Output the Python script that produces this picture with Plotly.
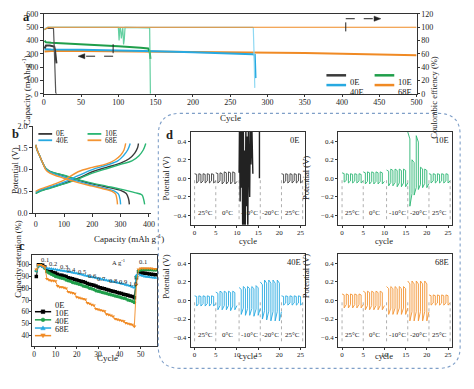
import plotly.graph_objects as go

W, H = 474, 389
FONT = "Liberation Serif"
AX = "#333333"

def X(p):
    return p / W

def Y(p):
    return 1 - p / H

# ---------------- Panel a data ----------------
a_cyc_0E = [1, 3, 8, 13, 14, 15, 16, 17]
a_cap_0E = [340, 362, 362, 360, 355, 330, 290, 228]
a_ce_cyc_0E = [1, 3, 8, 12, 13, 14, 15, 16, 17]
a_ce_0E = [96, 98, 98, 98, 98, 70, 30, 2, 0]

a_cyc_10E = [1, 3, 10, 50, 100, 130, 140, 142, 143]
a_cap_10E = [398, 386, 382, 372, 357, 346, 340, 320, 262]
a_ce_cyc_10E = [1, 5, 100, 101, 102, 103, 104, 105, 106, 107, 108, 109, 140, 142, 143]
a_ce_10E = [96, 99.5, 99.5, 80, 99, 98, 83, 99, 99, 74, 82, 99.5, 99.5, 99, 0]

a_cyc_40E = [1, 10, 50, 100, 150, 200, 250, 280, 283, 284]
a_cap_40E = [335, 333, 330, 327, 320, 312, 305, 296, 292, 118]
a_ce_cyc_40E = [1, 5, 280, 281, 282, 283]
a_ce_40E = [97, 99.6, 99.8, 99, 60, 9]

a_cyc_68E = [1, 10, 50, 100, 150, 200, 250, 300, 350, 400, 450, 500]
a_cap_68E = [318, 322, 322, 320, 318, 315, 313, 310, 306, 301, 296, 290]
a_ce_cyc_68E = [1, 3, 6, 10, 100, 200, 300, 400, 500]
a_ce_68E = [96.5, 98, 99.5, 99.8, 99.8, 99.8, 99.8, 99.8, 99.8]

# ---------------- Panel b data ----------------
b_dis_cap_0E = [0, 5, 15, 25, 35, 50, 100, 150, 200, 250, 300, 320, 328, 331]
b_dis_v_0E = [1.57, 1.45, 1.3, 1.15, 1.03, 0.96, 0.86, 0.76, 0.67, 0.6, 0.52, 0.45, 0.33, 0.2]
b_chg_cap_0E = [0, 20, 50, 100, 150, 200, 250, 300, 330, 350, 360, 363]
b_chg_v_0E = [0.45, 0.52, 0.58, 0.68, 0.8, 0.95, 1.05, 1.15, 1.25, 1.38, 1.5, 1.6]

b_dis_cap_10E = [0, 5, 15, 25, 35, 50, 100, 150, 200, 250, 300, 350, 375, 382, 385]
b_dis_v_10E = [1.57, 1.45, 1.3, 1.15, 1.03, 0.96, 0.87, 0.77, 0.69, 0.62, 0.55, 0.47, 0.42, 0.3, 0.2]
b_chg_cap_10E = [0, 20, 50, 100, 150, 200, 250, 300, 340, 365, 380, 389]
b_chg_v_10E = [0.45, 0.51, 0.57, 0.67, 0.78, 0.92, 1.02, 1.12, 1.2, 1.32, 1.45, 1.6]

b_dis_cap_40E = [0, 5, 15, 25, 35, 50, 100, 150, 200, 250, 280, 292, 298, 300]
b_dis_v_40E = [1.57, 1.45, 1.3, 1.15, 1.02, 0.94, 0.83, 0.73, 0.64, 0.56, 0.5, 0.44, 0.32, 0.2]
b_chg_cap_40E = [0, 20, 50, 100, 150, 200, 250, 290, 310, 325, 334]
b_chg_v_40E = [0.48, 0.54, 0.6, 0.71, 0.86, 1.0, 1.1, 1.2, 1.32, 1.45, 1.6]

b_dis_cap_68E = [0, 5, 15, 25, 35, 50, 100, 150, 200, 250, 270, 282, 287, 289]
b_dis_v_68E = [1.57, 1.45, 1.3, 1.15, 1.0, 0.92, 0.8, 0.7, 0.62, 0.54, 0.5, 0.44, 0.32, 0.2]
b_chg_cap_68E = [0, 20, 50, 100, 150, 200, 250, 280, 300, 312, 318]
b_chg_v_68E = [0.5, 0.56, 0.63, 0.76, 0.95, 1.05, 1.13, 1.22, 1.33, 1.45, 1.6]

# ---------------- Panel c data ----------------
c_cycle = list(range(1, 58))
c_0E = [90, 100, 100, 99.5, 98, 95, 94, 94, 93.5, 93, 92, 91, 91, 90.5, 90, 89, 88.5, 88, 87.5, 87,
        86.5, 86, 85.5, 85, 84, 83.5, 83, 82.5, 82, 81, 80.5, 80, 79.5, 79, 78.5, 78, 77.5, 77, 76.5, 76,
        75.5, 75, 74.5, 74, 73.5, 73, 72, 89, 94, 93.5, 93, 92.8, 92.5, 92.2, 92, 91.8, 91.5]
c_10E = [95, 99, 99.5, 98.5, 97, 94, 93, 92, 91, 90, 89.5, 89, 88.5, 88, 87, 86.5, 86, 85, 84.5, 84,
         83.5, 83, 82, 81.5, 81, 80, 79.5, 79, 78, 77.5, 77, 76.5, 76, 75.5, 75, 74.5, 74, 73.5, 73, 72.5,
         72, 71.5, 71, 70, 69.5, 69, 68, 90, 95, 95.5, 96, 96, 96, 95.8, 95.8, 95.5, 95.5]
c_40E = [95, 99, 99, 98, 97.5, 97, 96.8, 96.5, 96.2, 96, 95.6, 95.3, 95, 94.7, 94.4, 94, 93.7, 93.4, 93, 92.7,
         92.2, 91.8, 91.3, 90.8, 90.4, 90, 89.6, 89.2, 88.8, 88.4, 88, 87.6, 87.2, 86.8, 86.4, 86, 85.6, 85.2, 84.8, 84.4,
         84, 83.5, 83, 82.5, 82, 81.2, 80.5, 91, 92, 91, 90.5, 90, 89.8, 89.5, 89.2, 89, 88.8]
c_68E = [96, 100, 100, 99, 98, 88, 87, 86.5, 86.5, 86, 82, 81, 81, 80.5, 80, 77, 76.5, 76, 75.5, 72.5,
         72, 71.5, 71, 70.5, 67.5, 67, 66, 65.5, 62.5, 62, 61.5, 61, 60.5, 58, 57.5, 57, 56, 54, 53.5, 53,
         52.5, 52, 50.5, 50, 49.5, 49, 47.5, 83, 96, 97, 97, 97, 97, 97, 97, 96.5, 96.5]
c_rate_lbl = ["0.1", "0.2", "0.3", "0.4", "0.5", "0.6", "0.7", "0.8", "0.9", "1.0", "0.1"]
c_rate_x = [4.9, 8.8, 13.8, 17.7, 22.3, 27.2, 31.8, 36.9, 41.8, 46.5, 51.0]
c_rate_y = [104.5, 101, 98.5, 96, 94, 91, 88.5, 87, 86, 84, 103]

# ---------------- Panel d data ----------------
d_seg_start = [0, 5, 10.5, 15.5, 20.5]
d_bounds = [0, 5, 10.5, 15.5, 20.5, 25.5]
d_temps = ["25°C", "0°C", "-10°C", "-20°C", "25°C"]
d_temp_x = [2.5, 7.7, 13.0, 18.0, 23.1]

d0_hi = [[0.05, 0.05, 0.05, 0.05, 0.05], [0.06, 0.06, 0.07, 0.07, 0.07], None, None, [0.05, 0.05, 0.05, 0.05, 0.05]]
d0_lo = [[-0.05, -0.05, -0.05, -0.05, -0.05], [-0.05, -0.06, -0.06, -0.06, -0.06], None, None, [-0.05, -0.05, -0.05, -0.05, -0.05]]
d0_fail_t = [10.5, 10.6, 10.75, 10.9, 11.05, 11.2, 11.35, 11.5, 11.65, 11.8, 11.95, 12.1, 12.25, 12.4,
             12.55, 12.7, 12.85, 13.0, 13.15, 13.3, 13.5, 13.7, 13.75, None, 15.3, 15.3]
d0_fail_v = [0.06, 0.6, -0.25, 0.6, -0.1, 0.5, -0.6, 0.6, -0.6, 0.3, -0.6, 0.6, -0.3, 0.45,
             -0.6, 0.6, 0.1, -0.2, 0.6, 0.15, 0.6, 0.15, 0.05, None, 0.0, 0.6]

d10_hi = [[0.06, 0.05, 0.05, 0.05, 0.05], [0.07, 0.07, 0.07, 0.07, 0.07], [0.09, 0.1, 0.1, 0.1, 0.1],
          [0.5, 0.2, 0.46, 0.12, 0.1], [0.05, 0.05, 0.05, 0.05, 0.05]]
d10_lo = [[-0.04, -0.05, -0.05, -0.05, -0.05], [-0.06, -0.06, -0.06, -0.06, -0.06], [-0.08, -0.08, -0.09, -0.09, -0.09],
          [-0.3, -0.18, -0.12, -0.1, -0.1], [-0.05, -0.05, -0.05, -0.05, -0.05]]

d40_hi = [[0.05, 0.05, 0.05, 0.05, 0.05], [0.09, 0.1, 0.1, 0.1, 0.1], [0.14, 0.15, 0.15, 0.15, 0.16],
          [0.2, 0.22, 0.22, 0.22, 0.22], [0.05, 0.05, 0.05, 0.05, 0.05]]
d40_lo = [[-0.06, -0.06, -0.06, -0.06, -0.06], [-0.1, -0.1, -0.1, -0.11, -0.1], [-0.15, -0.16, -0.16, -0.17, -0.16],
          [-0.2, -0.21, -0.22, -0.22, -0.22], [-0.05, -0.05, -0.05, -0.05, -0.05]]

d68_hi = [[0.07, 0.07, 0.07, 0.07, 0.07], [0.1, 0.1, 0.1, 0.1, 0.1], [0.15, 0.15, 0.15, 0.15, 0.15],
          [0.21, 0.21, 0.21, 0.21, 0.21], [0.06, 0.06, 0.06, 0.06, 0.06]]
d68_lo = [[-0.08, -0.08, -0.08, -0.08, -0.08], [-0.1, -0.1, -0.1, -0.1, -0.1], [-0.15, -0.15, -0.15, -0.15, -0.15],
          [-0.22, -0.22, -0.22, -0.22, -0.22], [-0.05, -0.05, -0.05, -0.05, -0.05]]

# ---------------- colours ----------------
C0 = "#3a3a3a"
C10 = "#1f9e4a"
C40 = "#27a9e1"
C68 = "#f08a24"
C10_ce = "#63cfa0"
C40_ce = "#8ed8f2"
C10b = "#2bb673"
C68b = "#f39433"

fig = go.Figure()

# ---------- panel a ----------
for cyc, ce, col in [(a_ce_cyc_0E, a_ce_0E, "#555555"), (a_ce_cyc_10E, a_ce_10E, C10_ce),
                     (a_ce_cyc_40E, a_ce_40E, C40_ce), (a_ce_cyc_68E, a_ce_68E, C68)]:
    fig.add_trace(go.Scatter(x=cyc, y=ce, mode="lines", line=dict(color=col, width=1.2),
                             xaxis="x", yaxis="y2", showlegend=False))
for cyc, cap, col in [(a_cyc_68E, a_cap_68E, C68), (a_cyc_40E, a_cap_40E, C40),
                      (a_cyc_10E, a_cap_10E, C10), (a_cyc_0E, a_cap_0E, C0)]:
    fig.add_trace(go.Scatter(x=cyc, y=cap, mode="lines", line=dict(color=col, width=2),
                             xaxis="x", yaxis="y", showlegend=False))

# ---------- panel b ----------
for cap, v, col in [(b_dis_cap_0E, b_dis_v_0E, C0), (b_chg_cap_0E, b_chg_v_0E, C0),
                    (b_dis_cap_10E, b_dis_v_10E, C10b), (b_chg_cap_10E, b_chg_v_10E, C10b),
                    (b_dis_cap_40E, b_dis_v_40E, C40), (b_chg_cap_40E, b_chg_v_40E, C40),
                    (b_dis_cap_68E, b_dis_v_68E, C68b), (b_chg_cap_68E, b_chg_v_68E, C68b)]:
    fig.add_trace(go.Scatter(x=cap, y=v, mode="lines", line=dict(color=col, width=1.4, shape="spline"),
                             xaxis="x2", yaxis="y3", showlegend=False))

# ---------- panel c ----------
c_series = [(c_0E, "#000000", "square"), (c_10E, C10, "circle"),
            (c_40E, C40, "triangle-up"), (c_68E, C68, "triangle-down")]
for vals, col, sym in c_series:
    fig.add_trace(go.Scatter(x=c_cycle, y=vals, mode="lines+markers",
                             line=dict(color=col, width=0.9), marker=dict(symbol=sym, size=3.5, color=col),
                             xaxis="x3", yaxis="y4", showlegend=False))

# ---------- panel d ----------
RELAX_HI = 0.85
RELAX_LO = 0.55

def wave(hi, lo):
    xs, ys = [], []
    for s0, hs, ls in zip(d_seg_start, hi, lo):
        if hs is None:
            continue
        for k, (h, l) in enumerate(zip(hs, ls)):
            t0 = s0 + k
            xs += [t0, t0 + 0.5, t0 + 0.5, t0 + 1.0]
            ys += [h, h * RELAX_HI, l, l * RELAX_LO]
        xs.append(None)
        ys.append(None)
    return xs, ys

d_panels = [("x4", "y5", d0_hi, d0_lo, "#3a3a3a", "0E"),
            ("x5", "y6", d10_hi, d10_lo, C10b, "10E"),
            ("x6", "y7", d40_hi, d40_lo, C40, "40E"),
            ("x7", "y8", d68_hi, d68_lo, C68b, "68E")]

shapes = []
annotations = []

for xa, ya, hi, lo, col, name in d_panels:
    for b in d_bounds:
        shapes.append(dict(type="line", xref=xa, yref=ya, x0=b, x1=b, y0=-0.44, y1=0.0,
                           line=dict(color="#9a9a9a", width=0.8, dash="dot"), layer="below"))
    xs, ys = wave(hi, lo)
    fig.add_trace(go.Scatter(x=xs, y=ys, mode="lines", line=dict(color=col, width=0.9),
                             xaxis=xa, yaxis=ya, showlegend=False, cliponaxis=True))
    if name == "0E":
        fig.add_trace(go.Scatter(x=d0_fail_t, y=d0_fail_v, mode="lines", line=dict(color="#222222", width=1.4),
                                 xaxis=xa, yaxis=ya, showlegend=False, connectgaps=False))
    for tx, tl in zip(d_temp_x, d_temps):
        annotations.append(dict(x=tx, y=-0.37, xref=xa, yref=ya, text=tl, showarrow=False,
                                font=dict(family=FONT, size=7, color="#222")))
    annotations.append(dict(x=23.5, y=0.41, xref=xa, yref=ya, text=name, showarrow=False,
                            font=dict(family=FONT, size=8.5, color="#222")))

# ---------- axes ----------
def axs(**kw):
    base = dict(showline=True, linecolor=AX, linewidth=1, mirror=True, ticks="outside", ticklen=3,
                tickwidth=1, tickcolor=AX, showgrid=False, zeroline=False,
                tickfont=dict(family=FONT, size=8, color="#222"))
    base.update(kw)
    return base

layout = dict(
    width=W, height=H, margin=dict(l=0, r=0, t=0, b=0), paper_bgcolor="white", plot_bgcolor="white",
    font=dict(family=FONT, color="#222"),
    xaxis=axs(domain=[X(42.5), X(421.7)], anchor="y", range=[0, 500], dtick=50, ticklen=2, ticklabelstandoff=-1),
    yaxis=axs(domain=[Y(92), Y(10)], anchor="x", range=[0, 600], dtick=100, mirror=False),
    yaxis2=axs(domain=[Y(92), Y(10)], anchor="x", overlaying="y", side="right", range=[0, 120], dtick=20,
               mirror=False, ticklen=2),
    xaxis2=axs(domain=[X(31.7), X(152)], anchor="y3", range=[-9, 409], dtick=100, mirror=False),
    yaxis3=axs(domain=[Y(214), Y(125)], anchor="x2", range=[0, 2], dtick=0.5, tickformat=".1f", mirror=False),
    xaxis3=axs(domain=[X(31), X(158)], anchor="y4", range=[-0.8, 57.8], dtick=10, ticklen=2,
               ticklabelstandoff=-1, tickfont=dict(family=FONT, size=7.5, color="#222")),
    yaxis4=axs(domain=[Y(350), Y(256.7)], anchor="x3", range=[31, 108.5], dtick=10, ticklen=2,
               ticklabelstandoff=-1, tickfont=dict(family=FONT, size=7.5, color="#222")),
)
d_dom = {"x4": ([192, 308], [226, 131]), "x5": ([342, 458], [226, 131]),
         "x6": ([192, 308], [351, 256]), "x7": ([342, 458], [351, 256])}
for i, (xa, ya) in enumerate([("x4", "y5"), ("x5", "y6"), ("x6", "y7"), ("x7", "y8")]):
    (xl, xr), (yb, yt) = d_dom[xa]
    layout["xaxis" + xa[1:]] = axs(domain=[X(xl), X(xr)], anchor=ya, range=[-0.9, 26], dtick=5, ticklen=2,
                                   ticklabelstandoff=-1, tickfont=dict(family=FONT, size=7, color="#222"))
    layout["yaxis" + ya[1:]] = axs(domain=[Y(yb), Y(yt)], anchor=xa, range=[-0.5, 0.5], dtick=0.2, ticklen=2,
                                   tickformat=".1f", tickfont=dict(family=FONT, size=7, color="#222"))
    annotations.append(dict(x=X((xl + xr) / 2), y=Y(yb + 17), xref="paper", yref="paper", text="cycle",
                            showarrow=False, font=dict(family=FONT, size=8.5)))
    annotations.append(dict(x=X(xl - 25), y=Y((yb + yt) / 2), xref="paper", yref="paper", text="Potential (V)",
                            textangle=-90, showarrow=False, font=dict(family=FONT, size=8.5)))

# ---------- titles ----------
def ann(x, y, text, size=9.5, angle=0, **kw):
    d = dict(x=X(x), y=Y(y), xref="paper", yref="paper", text=text, showarrow=False, textangle=angle,
             font=dict(family=FONT, size=size, color="#222"))
    d.update(kw)
    annotations.append(d)

ann(16, 51, "Capacity (mAh g<sup>-1</sup>)", size=9, angle=-90)
ann(447, 51, "Coulombic effiency (%)", size=8.5, angle=-90)
ann(232, 110, "Cycle", size=9)
ann(6, 170, "Potential (V)", size=9, angle=-90)
ann(92, 240, "Capacity (mAh g<sup>-1</sup>)", size=9)
ann(9, 303, "Capacity retention (%)", size=8.5, angle=-90)
ann(95, 370, "Cycle", size=9)

# panel letters
for lx, ly, lt in [(19, 4, "a"), (8, 124, "b"), (15, 248, "c"), (170, 125, "d")]:
    ann(lx, ly, "<b>%s</b>" % lt, size=12.5)

# rate labels in c
for tx, ty, tl in zip(c_rate_x, c_rate_y, c_rate_lbl):
    annotations.append(dict(x=tx, y=ty, xref="x3", yref="y4", text=tl, showarrow=False,
                            font=dict(family=FONT, size=6.5, color="#222")))
annotations.append(dict(x=39.5, y=102, xref="x3", yref="y4", text="A g<sup>-1</sup>", showarrow=False,
                        font=dict(family=FONT, size=6.5, color="#222")))

# ---------- legends (manual) ----------
leg_a = [(330, 73, C0, "0E"), (379, 73, C10, "10E"), (330, 83, C40, "40E"), (379, 83, C68, "68E")]
for lx, ly, col, name in leg_a:
    shapes.append(dict(type="line", xref="paper", yref="paper", x0=X(lx), x1=X(lx + 20), y0=Y(ly), y1=Y(ly),
                       line=dict(color=col, width=2.5)))
    ann(lx + 22, ly, name, size=8.5, xanchor="left")

leg_b = [(37, 133, C0, "0E"), (87, 133, C10b, "10E"), (37, 139.5, C40, "40E"), (87, 139.5, C68b, "68E")]
for lx, ly, col, name in leg_b:
    shapes.append(dict(type="line", xref="paper", yref="paper", x0=X(lx), x1=X(lx + 14), y0=Y(ly), y1=Y(ly),
                       line=dict(color=col, width=1.8)))
    ann(lx + 16, ly, name, size=7.5, xanchor="left")

leg_c = [(315, "#000000", "square", "0E"), (323.3, C10, "circle", "10E"),
         (331.7, C40, "up", "40E"), (339.5, C68, "down", "68E")]
MX = 41.7
for ly, col, kind, name in leg_c:
    shapes.append(dict(type="line", xref="paper", yref="paper", x0=X(33.5), x1=X(50), y0=Y(ly), y1=Y(ly),
                       line=dict(color=col, width=1.5)))
    if kind in ("square", "circle"):
        shapes.append(dict(type="rect" if kind == "square" else "circle", xref="paper", yref="paper",
                           x0=X(MX - 1.9), x1=X(MX + 1.9), y0=Y(ly + 1.9), y1=Y(ly - 1.9),
                           fillcolor=col, line=dict(color=col, width=0.5)))
    else:
        s = 1 if kind == "up" else -1
        p = (f"M {X(MX)},{Y(ly - 2.2 * s)} L {X(MX + 2.3)},{Y(ly + 1.8 * s)} "
             f"L {X(MX - 2.3)},{Y(ly + 1.8 * s)} Z")
        shapes.append(dict(type="path", xref="paper", yref="paper", path=p, fillcolor=col,
                           line=dict(color=col, width=0.5)))
    ann(52, ly, name, size=8.5, xanchor="left")

# ---------- arrows in a ----------
DASH = dict(color="#222", width=1, dash="dash")
arrow_l = dict(vx=93, vy0=372, vy1=282, hx1=53, tip=46)
arrow_r = dict(vx=405, vy0=468, vy1=563, hx1=445, tip=452)
for arr, d in [(arrow_l, 1), (arrow_r, -1)]:
    shapes.append(dict(type="line", xref="x", yref="y", x0=arr["vx"], x1=arr["vx"], y0=arr["vy0"], y1=arr["vy1"], line=DASH))
    shapes.append(dict(type="line", xref="x", yref="y", x0=arr["vx"], x1=arr["hx1"], y0=arr["vy1"], y1=arr["vy1"], line=DASH))
    t, yv = arr["tip"], arr["vy1"]
    shapes.append(dict(type="path", xref="x", yref="y", fillcolor="#222", line=dict(color="#222", width=0.5),
                       path=f"M {t},{yv} L {t + 9 * d},{yv + 19} L {t + 9 * d},{yv - 19} Z"))

# ---------- dashed rounded box around d ----------
L, R, T, B = X(159), X(466), Y(112), Y(373)
rx, ry = 22 / W, 22 / H
path = (f"M {L+rx},{T} L {R-rx},{T} Q {R},{T} {R},{T-ry} L {R},{B+ry} Q {R},{B} {R-rx},{B} "
        f"L {L+rx},{B} Q {L},{B} {L},{B+ry} L {L},{T-ry} Q {L},{T} {L+rx},{T} Z")
shapes.append(dict(type="path", xref="paper", yref="paper", path=path,
                   line=dict(color="#7f9fc8", width=1.1, dash="dot")))

layout["shapes"] = shapes
layout["annotations"] = annotations
fig.update_layout(**layout)
fig.write_html("out.html", config={"displayModeBar": False},
               post_script="document.body.style.margin='0px';document.body.style.padding='0px';")
